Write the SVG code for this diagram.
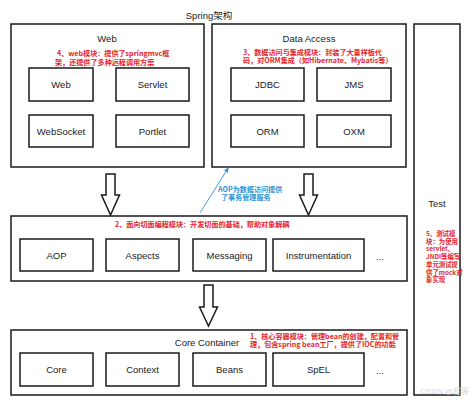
<svg xmlns="http://www.w3.org/2000/svg" width="474" height="401" viewBox="0 0 474 401">
<defs>
<style>
.box{fill:#fff;stroke:#1a1a1a;stroke-width:1.5}
.lbl{font-family:"Liberation Sans",Arial,"Noto Sans CJK SC",sans-serif;font-size:9.5px;fill:#1a1a1a;text-anchor:middle}
.red{font-family:"Noto Sans CJK SC",sans-serif;font-size:7.1px;font-weight:bold;fill:#e8222b}
.redsm{font-family:"Noto Sans CJK SC",sans-serif;font-size:6.4px;font-weight:bold;fill:#e8222b}
.blue{font-family:"Noto Sans CJK SC",sans-serif;font-size:7.1px;font-weight:bold;fill:#2a94d6}
.harrow{fill:#fff;stroke:#1a1a1a;stroke-width:1.5;stroke-linejoin:miter}
</style>
<marker id="bh" viewBox="0 0 10 10" refX="9" refY="5" markerWidth="6" markerHeight="6" orient="auto-start-reverse">
<path d="M0,1 L10,5 L0,9 z" fill="#2a94d6"/>
</marker>
</defs>
<rect width="474" height="401" fill="#fff"/>
<text class="lbl" x="209" y="18.5">Spring架构</text>

<g id="web">
<rect class="box" x="11" y="24" width="193" height="143"/>
<text class="lbl" x="107" y="41.5">Web</text>
<text class="red" x="57" y="56.3">4、web模块：提供了springmvc框</text>
<text class="red" x="55" y="64.8">架，还提供了多种远程调用方案</text>
<g id="web-web"><rect class="box" x="29" y="68" width="64" height="33"/><text class="lbl" x="61" y="88">Web</text></g>
<g id="web-servlet"><rect class="box" x="116" y="68" width="73" height="33"/><text class="lbl" x="152.5" y="88">Servlet</text></g>
<g id="web-websocket"><rect class="box" x="29" y="115" width="64" height="32"/><text class="lbl" x="61" y="134.5">WebSocket</text></g>
<g id="web-portlet"><rect class="box" x="116" y="115" width="73" height="32"/><text class="lbl" x="152.5" y="134.5">Portlet</text></g>
</g>

<g id="data-access">
<rect class="box" x="212" y="24" width="194" height="143"/>
<text class="lbl" x="309" y="41.5">Data Access</text>
<text class="red" x="243" y="54.6">3、数据访问与集成模块：封装了大量样板代</text>
<text class="red" x="243" y="63.2">码，对ORM集成（如Hibernate、Mybatis等）</text>
<g id="da-jdbc"><rect class="box" x="231" y="68" width="73" height="33"/><text class="lbl" x="267.5" y="88">JDBC</text></g>
<g id="da-jms"><rect class="box" x="317" y="68" width="74" height="33"/><text class="lbl" x="354" y="88">JMS</text></g>
<g id="da-orm"><rect class="box" x="231" y="115" width="73" height="32"/><text class="lbl" x="267.5" y="134.5">ORM</text></g>
<g id="da-oxm"><rect class="box" x="317" y="115" width="74" height="32"/><text class="lbl" x="354" y="134.5">OXM</text></g>
</g>

<g id="test">
<rect class="box" x="414" y="24" width="46" height="371"/>
<text class="lbl" x="437" y="206.5">Test</text>
<text class="redsm" x="426" y="236">5、测试模</text>
<text class="redsm" x="426" y="243.7">块：为使用</text>
<text class="redsm" x="426" y="251.4">servlet、</text>
<text class="redsm" x="426" y="259.1">JNDI等编写</text>
<text class="redsm" x="426" y="266.8">单元测试提</text>
<text class="redsm" x="426" y="274.5">供了mock对</text>
<text class="redsm" x="426" y="282.2">象实现</text>
</g>

<g id="aop">
<rect class="box" x="11" y="216" width="396" height="65"/>
<text class="red" x="115" y="227">2、面向切面编程模块：开发切面的基础，帮助对象解耦</text>
<g id="aop-aop"><rect class="box" x="20" y="239" width="73" height="32"/><text class="lbl" x="56.5" y="258.5">AOP</text></g>
<g id="aop-aspects"><rect class="box" x="106" y="239" width="73" height="32"/><text class="lbl" x="142.5" y="258.5">Aspects</text></g>
<g id="aop-messaging"><rect class="box" x="193" y="239" width="73" height="32"/><text class="lbl" x="229.5" y="258.5">Messaging</text></g>
<g id="aop-instrumentation"><rect class="box" x="273" y="239" width="91" height="32"/><text class="lbl" x="318.5" y="258.5">Instrumentation</text></g>
<text class="lbl" x="380" y="260">...</text>
</g>

<g id="core-container">
<rect class="box" x="11" y="330" width="396" height="65"/>
<text class="lbl" x="207" y="345.5">Core Container</text>
<text class="red" x="250" y="338.6">1、核心容器模块：管理bean的创建，配置和管</text>
<text class="red" x="250" y="347.2">理，包含spring bean工厂，提供了IOC的功能</text>
<g id="cc-core"><rect class="box" x="20" y="353" width="73" height="33"/><text class="lbl" x="56.5" y="373">Core</text></g>
<g id="cc-context"><rect class="box" x="106" y="353" width="73" height="33"/><text class="lbl" x="142.5" y="373">Context</text></g>
<g id="cc-beans"><rect class="box" x="193" y="353" width="73" height="33"/><text class="lbl" x="229.5" y="373">Beans</text></g>
<g id="cc-spel"><rect class="box" x="273" y="353" width="91" height="33"/><text class="lbl" x="318.5" y="373">SpEL</text></g>
<text class="lbl" x="380" y="374">...</text>
</g>

<g id="connectors">
<path class="harrow" d="M106,174 H115 V195 H119.5 L110.5,215 L101.5,195 H106 Z"/>
<path class="harrow" d="M304,174 H313 V195 H317.5 L308.5,215 L299.5,195 H304 Z"/>
<path class="harrow" d="M204,285 H213 V307 H217.5 L208.5,326 L199.5,307 H204 Z"/>
<line x1="200" y1="213" x2="228.5" y2="167.5" stroke="#2a94d6" stroke-width="0.9" marker-end="url(#bh)"/>
<text class="blue" x="218" y="191.6">AOP为数据访问提供</text>
<text class="blue" x="221" y="200.2">了事务管理服务</text>
</g>
<text x="420" y="394" font-family="Liberation Sans,'Noto Sans CJK SC',sans-serif" font-size="8px" fill="#d8d8d8">CSDN @程客</text>
</svg>
